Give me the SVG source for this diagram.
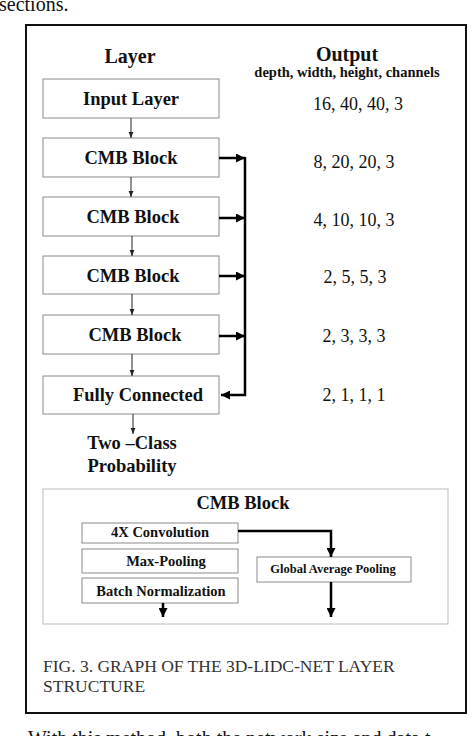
<svg xmlns="http://www.w3.org/2000/svg" width="474" height="736" viewBox="0 0 474 736">
<style>
.b{fill:#fff;stroke:#8a8a8a;stroke-width:1}
.t{font-family:"Liberation Serif",serif;font-weight:bold;fill:#111;text-anchor:middle}
.n{font-family:"Liberation Serif",serif;fill:#111;text-anchor:middle;font-size:18px}
.thin{stroke:#222;stroke-width:1;fill:none}
.thick{stroke:#000;stroke-width:2.5;fill:none}
</style>
<defs>
<marker id="ah" viewBox="0 0 10 10" refX="10" refY="5" markerWidth="6" markerHeight="6" orient="auto" markerUnits="userSpaceOnUse"><path d="M0,1 L10,5 L0,9 z" fill="#222"/></marker>
<marker id="AH" viewBox="0 0 10 10" refX="10" refY="5" markerWidth="9" markerHeight="9" orient="auto" markerUnits="userSpaceOnUse"><path d="M0,0 L10,5 L0,10 z" fill="#000"/></marker>
</defs>
<rect width="474" height="736" fill="#fff"/>
<text x="-1" y="11" font-family="Liberation Serif,serif" font-size="20" fill="#111">sections.</text>
<rect x="26" y="25" width="440" height="688" fill="none" stroke="#111" stroke-width="2"/>
<text class="t" x="130" y="63" font-size="20">Layer</text>
<text class="t" x="347" y="61" font-size="20">Output</text>
<text class="t" x="347" y="77" font-size="14.5">depth, width, height, channels</text>
<g id="input"><rect class="b" x="43" y="79" width="176" height="39"/><text class="t" x="131" y="105" font-size="18.5">Input Layer</text></g>
<g id="cmb1"><rect class="b" x="43" y="138" width="176" height="39"/><text class="t" x="131" y="164" font-size="18.5">CMB Block</text></g>
<g id="cmb2"><rect class="b" x="43" y="197" width="176" height="39"/><text class="t" x="133" y="223" font-size="18.5">CMB Block</text></g>
<g id="cmb3"><rect class="b" x="43" y="256" width="176" height="38"/><text class="t" x="133" y="282" font-size="18.5">CMB Block</text></g>
<g id="cmb4"><rect class="b" x="43" y="315" width="176" height="39"/><text class="t" x="135" y="341" font-size="18.5">CMB Block</text></g>
<g id="fc"><rect class="b" x="43" y="376" width="176" height="38"/><text class="t" x="138" y="401" font-size="18.5">Fully Connected</text></g>
<g id="out"><text class="t" x="132" y="449" font-size="18.5">Two –Class</text><text class="t" x="132" y="472" font-size="18.5">Probability</text></g>
<g id="nums">
<text class="n" x="358" y="110">16, 40, 40, 3</text>
<text class="n" x="354" y="168">8, 20, 20, 3</text>
<text class="n" x="354" y="226">4, 10, 10, 3</text>
<text class="n" x="355" y="283">2, 5, 5, 3</text>
<text class="n" x="354" y="342">2, 3, 3, 3</text>
<text class="n" x="354" y="401">2, 1, 1, 1</text>
</g>
<g id="connectors">
<line class="thin" x1="131" y1="118" x2="131" y2="138" marker-end="url(#ah)"/>
<line class="thin" x1="131" y1="177" x2="131" y2="197" marker-end="url(#ah)"/>
<line class="thin" x1="132" y1="236" x2="132" y2="256" marker-end="url(#ah)"/>
<line class="thin" x1="132" y1="294" x2="132" y2="315" marker-end="url(#ah)"/>
<line class="thin" x1="132" y1="354" x2="132" y2="376" marker-end="url(#ah)"/>
<line class="thin" x1="133" y1="414" x2="133" y2="434" marker-end="url(#ah)"/>
<line class="thick" x1="219" y1="158" x2="245" y2="158" marker-end="url(#AH)"/>
<line class="thick" x1="219" y1="218" x2="245" y2="218" marker-end="url(#AH)"/>
<line class="thick" x1="219" y1="276" x2="245" y2="276" marker-end="url(#AH)"/>
<line class="thick" x1="219" y1="336" x2="245" y2="336" marker-end="url(#AH)"/>
<polyline class="thick" points="245,157 245,395 221,395" marker-end="url(#AH)"/>
</g>
<g id="cmbdetail">
<rect x="43" y="489" width="405" height="135" fill="none" stroke="#bbb" stroke-width="1"/>
<text class="t" x="243" y="509" font-size="18.5">CMB Block</text>
<g id="conv"><rect class="b" x="82" y="523" width="156" height="20"/><text class="t" x="160" y="537" font-size="14.5">4X Convolution</text></g>
<g id="maxpool"><rect class="b" x="82" y="549" width="156" height="24"/><text class="t" x="166" y="566" font-size="14.5">Max-Pooling</text></g>
<g id="bn"><rect class="b" x="82" y="578" width="156" height="25"/><text class="t" x="161" y="596" font-size="14.5">Batch Normalization</text></g>
<g id="gap"><rect class="b" x="257" y="557" width="154" height="25"/><text class="t" x="333" y="573" font-size="12.5">Global Average Pooling</text></g>
<polyline class="thick" points="238,531 331,531 331,557" marker-end="url(#AH)"/>
<line class="thick" x1="331" y1="582" x2="331" y2="617" marker-end="url(#AH)"/>
<line class="thick" x1="163" y1="603" x2="163" y2="617" marker-end="url(#AH)"/>
</g>
<text x="43" y="672" font-family="Liberation Serif,serif" font-size="17.5" fill="#333">FIG. 3. GRAPH OF THE 3D-LIDC-NET LAYER</text>
<text x="43" y="692" font-family="Liberation Serif,serif" font-size="17.5" fill="#333">STRUCTURE</text>
<text x="28" y="745" font-family="Liberation Serif,serif" font-size="20" fill="#111">With this method, both the network size and data t</text>
</svg>
